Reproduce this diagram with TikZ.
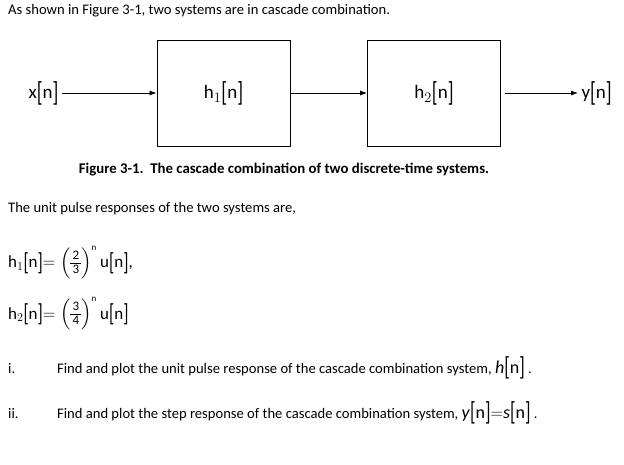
\documentclass[tikz,border=0pt]{standalone}
\usepackage{fontspec}
\usepackage{amsmath}
\setmainfont{Carlito}
\usetikzlibrary{arrows.meta}
\newcommand{\bk}[1]{\raisebox{-0.25ex}{\scalebox{1}[1.45]{[}}#1\raisebox{-0.25ex}{\scalebox{1}[1.45]{]}}}
\newcommand{\fr}[2]{\left(\vcenter{\hbox{\fontsize{13}{14}\selectfont\renewcommand{\arraystretch}{1.05}\begin{tabular}{@{\,}c@{\,}}#1\\[-1pt]\hline #2\end{tabular}}}\right)}
\newcommand{\ex}{\raisebox{2.1ex}{\fontsize{9}{9}\selectfont n}}
\begin{document}
\begin{tikzpicture}[x=1pt,y=-1pt,
  sys/.style={draw,line width=0.8pt,minimum width=133pt,minimum height=106pt,font=\fontsize{19}{22}\selectfont},
  sig/.style={font=\fontsize{19}{22}\selectfont},
  txt/.style={anchor=base west,font=\fontsize{14.6}{17}\selectfont,inner sep=0},
  con/.style={-{Latex[length=7pt,width=5pt]},line width=0.8pt}]
\useasboundingbox (0,0) rectangle (624,465);
\node[txt] (t1) at (8,15) {As shown in Figure 3-1, two systems are in cascade combination.};
\node[sys] (b1) at (223.5,93) {h$_1$\bk{n}};
\node[sys] (b2) at (434,93) {h$_2$\bk{n}};
\node[sig,anchor=east] (x) at (62,93) {x\bk{n}};
\node[sig,anchor=west] (y) at (578,93) {y\bk{n}};
\coordinate (ys) at (505,93);
\draw[con] (x) -- (b1);
\draw[con] (b1) -- (b2);
\draw[con] (ys) -- (y);
\node[font=\bfseries\fontsize{14.8}{17}\selectfont,anchor=base] (cap) at (284,174) {Figure 3-1.\ \ The cascade combination of two discrete-time systems.};
\node[txt] (t2) at (8,213) {The unit pulse responses of the two systems are,};
\node[txt,font=\fontsize{17}{20}\selectfont] (e1) at (8,268) {h$_1$\bk{n}$=\fr{2}{3}$\ex\ u\bk{n},};
\node[txt,font=\fontsize{17}{20}\selectfont] (e2) at (8,319) {h$_2$\bk{n}$=\fr{3}{4}$\ex\ u\bk{n}};
\node[txt] (i1) at (8,373) {i.};
\node[txt] (q1) at (57,373) {Find and plot the unit pulse response of the cascade combination system, {\fontsize{18}{20}\selectfont \textit{h}\bk{n}}\ .};
\node[txt] (i2) at (8,418) {ii.};
\node[txt] (q2) at (57,418) {Find and plot the step response of the cascade combination system, {\fontsize{18}{20}\selectfont \textit{y}\bk{n}$=$\textit{s}\bk{n}}\ .};
\end{tikzpicture}
\end{document}
